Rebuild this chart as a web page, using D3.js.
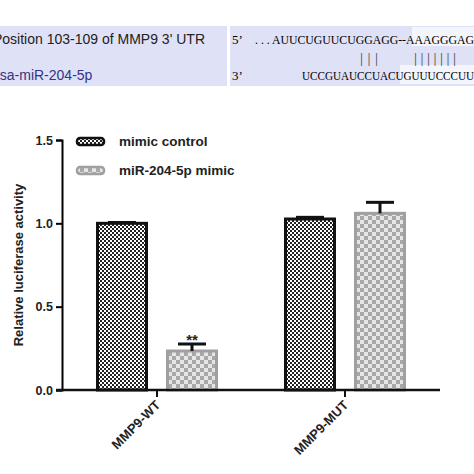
<!DOCTYPE html>
<html><head><meta charset="utf-8">
<script src="https://cdn.jsdelivr.net/npm/d3@7"></script>
<style>body{margin:0;background:#fff}svg{display:block}</style>
</head><body>
<script>
var w = 474, h = 474;

var categories = ["MMP9-WT", "MMP9-MUT"];
var seriesNames = ["mimic control", "miR-204-5p mimic"];
var controlValues = [1.0, 1.026];
var controlErrors = [0.005, 0.01];
var mimicValues = [0.234, 1.06];
var mimicErrors = [0.042, 0.066];
var yTicks = [0.0, 0.5, 1.0, 1.5];

var svg = d3.select("body").append("svg").attr("width", w).attr("height", h)
  .style("font-family", "Arial, 'Liberation Sans', sans-serif");

var defs = svg.append("defs");
var p1 = defs.append("pattern").attr("id", "chkDark").attr("patternUnits", "userSpaceOnUse")
  .attr("width", 4).attr("height", 4);
p1.append("rect").attr("width", 4).attr("height", 4).attr("fill", "#fff");
p1.append("rect").attr("width", 2).attr("height", 2).attr("fill", "#222");
p1.append("rect").attr("x", 2).attr("y", 2).attr("width", 2).attr("height", 2).attr("fill", "#222");
var p2 = defs.append("pattern").attr("id", "chkGray").attr("patternUnits", "userSpaceOnUse")
  .attr("width", 8).attr("height", 8);
p2.append("rect").attr("width", 8).attr("height", 8).attr("fill", "#e6e6e6");
p2.append("rect").attr("width", 4).attr("height", 4).attr("fill", "#a8a8a8");
p2.append("rect").attr("x", 4).attr("y", 4).attr("width", 4).attr("height", 4).attr("fill", "#a8a8a8");

// top sequence panel
var seqPanel = svg.append("g");
seqPanel.append("rect").attr("x", 0).attr("y", 26).attr("width", 227).attr("height", 60).attr("fill", "#dfe1f6");
seqPanel.append("rect").attr("x", 230).attr("y", 26).attr("width", 244).attr("height", 60).attr("fill", "#dfe1f6");
seqPanel.append("rect").attr("x", 412).attr("y", 27).attr("width", 62).attr("height", 19).attr("fill", "#f4f4fb");
seqPanel.append("rect").attr("x", 400).attr("y", 65).attr("width", 74).attr("height", 19).attr("fill", "#f4f4fb");
seqPanel.append("text").attr("x", -7).attr("y", 44).attr("font-size", 14).attr("fill", "#222")
  .text("Position 103-109 of MMP9 3' UTR");
seqPanel.append("text").attr("x", -8).attr("y", 80).attr("font-size", 14).attr("fill", "#333388")
  .text("hsa-miR-204-5p");
var serif = "'Liberation Serif', 'DejaVu Serif', serif";
seqPanel.append("text").attr("x", 232).attr("y", 44).attr("font-size", 13).attr("font-family", serif).text("5’");
seqPanel.append("text").attr("x", 232).attr("y", 80).attr("font-size", 13).attr("font-family", serif).text("3’");
seqPanel.append("text").attr("x", 255).attr("y", 44).attr("font-size", 13.5).attr("font-family", serif)
  .attr("textLength", 219).attr("lengthAdjust", "spacingAndGlyphs").text(". . . AUUCUGUUCUGGAGG--AAAGGGAG");
seqPanel.append("text").attr("x", 302).attr("y", 80).attr("font-size", 13.5).attr("font-family", serif)
  .attr("textLength", 172).attr("lengthAdjust", "spacingAndGlyphs").text("UCCGUAUCCUACUGUUUCCCUU");
seqPanel.append("text").attr("x", 360).attr("y", 63).attr("font-size", 15).attr("font-family", serif)
  .attr("fill", "#444").attr("textLength", 18).text("|||");
seqPanel.append("text").attr("x", 414).attr("y", 63).attr("font-size", 15).attr("font-family", serif)
  .attr("fill", "#444").attr("textLength", 42).text("|||||||");

// chart
var y = d3.scaleLinear().domain([0, 1.5]).range([390, 140]);
var barW = 49;

var axY = svg.append("g").attr("transform", "translate(62,0)")
  .call(d3.axisLeft(y).tickValues(yTicks).tickFormat(d3.format(".1f")).tickSize(6));
axY.select(".domain").attr("stroke-width", 2);
axY.selectAll(".tick line").attr("stroke-width", 2);
axY.selectAll("text").attr("font-size", 12.5).attr("font-weight", "bold").attr("fill", "#222");

svg.append("text").attr("transform", "translate(23,265) rotate(-90)").attr("text-anchor", "middle")
  .attr("font-size", 13).attr("font-weight", "bold").attr("fill", "#222").text("Relative luciferase activity");

var centers = [157, 345];
var groups = [
  {vals: controlValues, errs: controlErrors, off: -35, fill: "url(#chkDark)", stroke: "#111"},
  {vals: mimicValues, errs: mimicErrors, off: 35, fill: "url(#chkGray)", stroke: "#a0a0a0"}
];
groups.forEach(function(g) {
  categories.forEach(function(c, i) {
    var cx = centers[i] + g.off;
    svg.append("rect").attr("x", cx - barW / 2).attr("y", y(g.vals[i]))
      .attr("width", barW).attr("height", y(0) - y(g.vals[i]))
      .attr("fill", g.fill).attr("stroke", g.stroke).attr("stroke-width", 3);
    var et = y(g.vals[i] + g.errs[i]);
    svg.append("line").attr("x1", cx).attr("x2", cx).attr("y1", y(g.vals[i])).attr("y2", et)
      .attr("stroke", "#111").attr("stroke-width", 3);
    svg.append("line").attr("x1", cx - 14).attr("x2", cx + 14).attr("y1", et).attr("y2", et)
      .attr("stroke", "#111").attr("stroke-width", 3);
  });
});

var axX = svg.append("g").attr("transform", "translate(0,390)");
axX.append("line").attr("x1", 56).attr("x2", 440).attr("stroke", "#111").attr("stroke-width", 2.5);
categories.forEach(function(c, i) {
  axX.append("line").attr("x1", centers[i]).attr("x2", centers[i]).attr("y1", 0).attr("y2", 7)
    .attr("stroke", "#111").attr("stroke-width", 2);
  axX.append("text").attr("transform", "translate(" + (centers[i] + 4) + ",16) rotate(-45)")
    .attr("text-anchor", "end").attr("font-size", 13).attr("font-weight", "bold").attr("fill", "#222").text(c);
});

svg.append("text").attr("x", 192).attr("y", 345).attr("text-anchor", "middle")
  .attr("font-size", 15).attr("font-weight", "bold").attr("fill", "#222").text("**");

// legend
var lg = svg.append("g");
seriesNames.forEach(function(s, i) {
  var ly = 141 + i * 29;
  lg.append("rect").attr("x", 77).attr("y", ly - 3).attr("width", 27).attr("height", 7).attr("rx", 3)
    .attr("fill", groups[i].fill).attr("stroke", groups[i].stroke).attr("stroke-width", 2.5);
  lg.append("text").attr("x", 119).attr("y", ly + 5).attr("font-size", 13.5).attr("font-weight", "bold")
    .attr("fill", "#222").text(s);
});
</script>
</body></html>
